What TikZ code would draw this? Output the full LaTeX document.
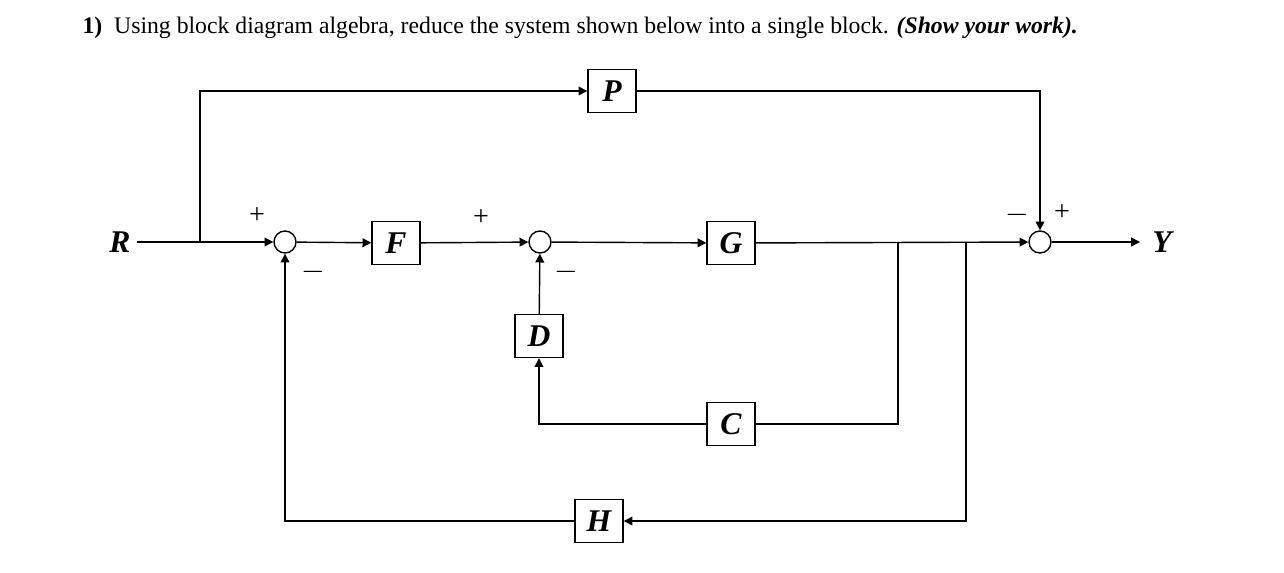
\documentclass[tikz,border=0pt]{standalone}
\usepackage{fontspec}
\setmainfont{Liberation Serif}
\usetikzlibrary{arrows.meta}
\begin{document}
\begin{tikzpicture}[x=0.02cm,y=-0.02cm,
  blk/.style={draw,thick,minimum width=0.96cm,minimum height=0.86cm,inner sep=0pt,font=\fontsize{18}{18}\selectfont\bfseries\itshape},
  sum/.style={draw,thick,circle,minimum size=0.44cm,inner sep=0pt},
  sig/.style={font=\fontsize{16}{16}\selectfont},
  lbl/.style={font=\fontsize{18}{18}\selectfont\bfseries\itshape},
  ar/.style={-{Triangle[length=5pt,width=5pt]}},
  every path/.style={thick}]
  \useasboundingbox (0,0) rectangle (1284,572);
  \node[anchor=west,font=\fontsize{13.5}{13.5}\selectfont] (title) at (76,28)
    {\textbf{1)}\enspace Using block diagram algebra, reduce the system shown below into a single block. \textbf{\textit{(Show your work).}}};

  \node[lbl] (R) at (120,242) {R};
  \node[lbl] (Y) at (1162,242) {Y};
  \node[sum] (s1) at (285,242) {};
  \node[sum] (s2) at (540,242) {};
  \node[sum] (s3) at (1040,242) {};
  \node[blk] (P) at (612,91) {P};
  \node[blk] (F) at (396,243) {F};
  \node[blk] (G) at (731,243) {G};
  \node[blk] (D) at (539,336) {D};
  \node[blk] (C) at (731,424) {C};
  \node[blk] (H) at (599,521) {H};

  \coordinate (b0) at (200,242);
  \coordinate (b1) at (898,242);
  \coordinate (b2) at (966,242);

  \draw (R) -- (b0);
  \draw[ar] (b0) -- (s1);
  \draw[ar] (b0) |- (P);
  \draw[ar] (P) -| (s3);
  \draw[ar] (s1) -- (F);
  \draw[ar] (F) -- (s2);
  \draw[ar] (s2) -- (G);
  \draw[ar] (G) -- (s3);
  \draw[ar] (s3) -- (1140,242);
  \draw (b1) |- (C);
  \draw[ar] (C) -| (D);
  \draw[ar] (D) -- (s2);
  \draw[ar] (b2) |- (H);
  \draw[ar] (H) -| (s1);

  \node[sig] (p1) at (257,216) {+};
  \node[sig] (m1) at (313,272) {$-$};
  \node[sig] (p2) at (481,218) {+};
  \node[sig] (m2) at (566,272) {$-$};
  \node[sig] (m3) at (1017,215) {$-$};
  \node[sig] (p3) at (1062,213) {+};
\end{tikzpicture}
\end{document}
